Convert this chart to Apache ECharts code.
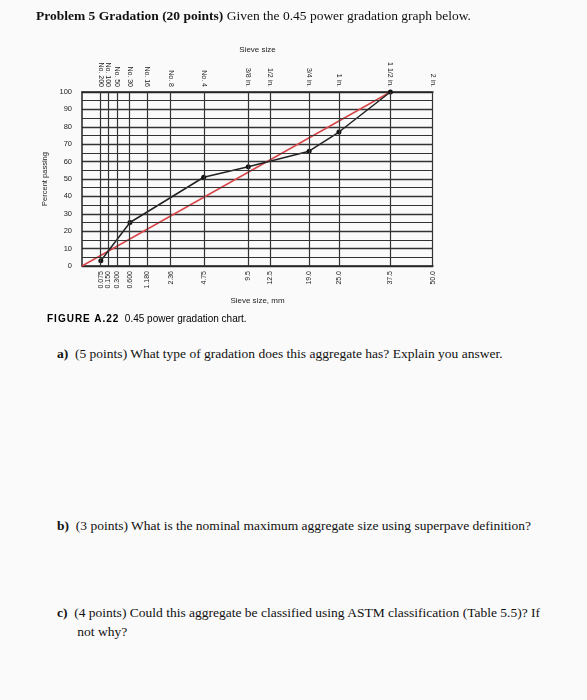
<!DOCTYPE html>
<html><head><meta charset="utf-8">
<script src="https://cdn.jsdelivr.net/npm/echarts@6/dist/echarts.min.js"></script>
<style>
body{margin:0;background:#fafafa;width:587px;height:700px;position:relative;overflow:hidden;font-family:"Liberation Serif",serif;}
#c{position:absolute;left:0;top:0;width:587px;height:330px;}
.t{position:absolute;font-size:13.5px;color:#111;}
.s{font-family:"Liberation Sans",Arial,sans-serif;font-size:9px;position:absolute;}
</style></head><body>
<div id="c"></div>
<div class="t" style="left:36px;top:8px;"><b>Problem 5 Gradation</b> <b style="font-weight:600">(20 points)</b> Given the 0.45 power gradation graph below.</div>
<div class="s" style="left:47px;top:313px;font-size:10px;"><b style="letter-spacing:1px">FIGURE A.22</b> &nbsp;0.45 power gradation chart.</div>
<div class="t" style="left:57px;top:346px;"><b>a)</b> &nbsp;(5 points) What type of gradation does this aggregate has? Explain you answer.</div>
<div class="t" style="left:57px;top:518px;"><b>b)</b> &nbsp;(3 points) What is the nominal maximum aggregate size using superpave definition?</div>
<div class="t" style="left:57px;top:603px;line-height:19px;"><b>c)</b> &nbsp;(4 points) Could this aggregate be classified using ASTM classification (Table 5.5)? If<br>&nbsp;&nbsp;&nbsp;&nbsp;&nbsp;&nbsp;not why?</div>
<script>
const sieveMM = [0.075,0.15,0.3,0.6,1.18,2.36,4.75,9.5,12.5,19.0,25.0,37.5,50.0];
const mmLabels = ['0.075','0.150','0.300','0.600','1.180','2.36','4.75','9.5','12.5','19.0','25.0','37.5','50.0'];
const sieveNames = ['No. 200','No. 100','No. 50','No. 30','No. 16','No. 8','No. 4','3/8 in.','1/2 in.','3/4 in.','1 in.','1 1/2 in.','2 in.'];
const gradSizes = [0.075,0.6,4.75,9.5,19.0,25.0,37.5];
const gradPassing = [3,25,51,57,66,77,100];
const maxDensSizes = [0,37.5];
const maxDensPassing = [0,100];
const yGrid = [5,15,25,35,45,55,65,75,85,95];

const p = v => Math.pow(v,0.45);
const xs = sieveMM.map(p);
const fmt = arr => v => { let i = xs.findIndex(x=>Math.abs(x-v)<1e-6); return i>=0?arr[i]:''; };
const ch = echarts.init(document.getElementById('c'));
const sans = '"Liberation Sans",Arial,sans-serif';
ch.setOption({
  animation:false,
  grid:{left:82,right:154,top:92,bottom:64},
  xAxis:[
    {type:'value',min:0,max:p(50),axisLine:{lineStyle:{color:'#222',width:1.5}},splitLine:{show:false},
     axisTick:{show:false},
     axisLabel:{customValues:xs,formatter:fmt(mmLabels),rotate:90,fontSize:7,fontFamily:sans,color:'#222',margin:5,hideOverlap:false,showMinLabel:true,showMaxLabel:true},
     name:'Sieve size, mm',nameLocation:'middle',nameGap:30,nameTextStyle:{fontFamily:sans,fontSize:8,color:'#222'}},
    {type:'value',position:'top',min:0,max:p(50),axisLine:{lineStyle:{color:'#222',width:1.5}},splitLine:{show:false},
     axisTick:{show:false},
     axisLabel:{customValues:xs,formatter:fmt(sieveNames),rotate:90,fontSize:7,fontFamily:sans,color:'#222',margin:5,hideOverlap:false,showMinLabel:true,showMaxLabel:true},
     name:'Sieve size',nameLocation:'middle',nameGap:34,nameTextStyle:{fontFamily:sans,fontSize:8,color:'#222'}}
  ],
  yAxis:{type:'value',min:0,max:100,interval:10,axisLine:{show:true,lineStyle:{color:'#222',width:1.5}},
    axisTick:{show:false},splitLine:{lineStyle:{color:'#333',width:1.3}},
    axisLabel:{fontSize:7.5,fontFamily:sans,color:'#222',margin:10},
    name:'Percent passing',nameLocation:'middle',nameGap:30,nameTextStyle:{fontFamily:sans,fontSize:7.5,color:'#222'}},
  series:[
    {type:'line',data:[],silent:true,markLine:{symbol:'none',silent:true,label:{show:false},
      data:xs.map(x=>({xAxis:x})).concat(yGrid.map(y=>({yAxis:y}))),lineStyle:{color:'#333',type:'solid',width:1.2}}},
    {type:'line',data:maxDensSizes.map((s,i)=>[p(s),maxDensPassing[i]]),symbol:'none',lineStyle:{color:'#d9464a',width:1.5}},
    {type:'line',data:gradSizes.map((s,i)=>[p(s),gradPassing[i]]),symbol:'circle',symbolSize:5,
      itemStyle:{color:'#111'},lineStyle:{color:'#222',width:1.5}}
  ]
});
</script></body></html>
